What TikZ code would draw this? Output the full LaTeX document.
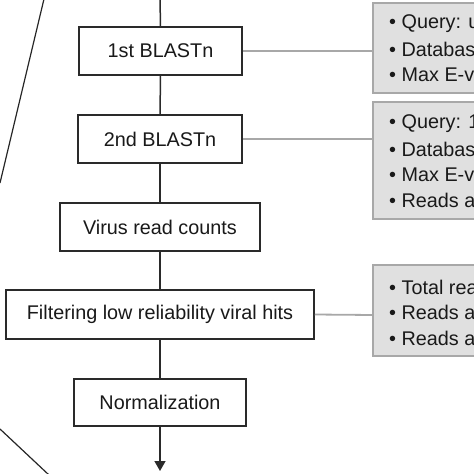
\documentclass[tikz,border=0pt]{standalone}
\usepackage{fontspec}
\setmainfont{Liberation Sans}
\usetikzlibrary{arrows.meta}
\definecolor{linec}{HTML}{2A2A2A}
\definecolor{grayfill}{HTML}{E0E0E0}
\definecolor{graydraw}{HTML}{A8A8A8}
\begin{document}
\begin{tikzpicture}[x=1pt,y=-1pt,
  stepbox/.style={draw=linec,line width=1.5pt,fill=white,inner sep=0pt,align=center,
    font=\fontsize{19.8}{22}\selectfont,text=black!90},
  infobox/.style={draw=graydraw,line width=1.2pt,fill=grayfill},
  infotext/.style={anchor=west,inner sep=0pt,font=\fontsize{19.8}{22}\selectfont,text=black!90},
  flow/.style={draw=linec,line width=1.5pt},
  side/.style={draw=graydraw,line width=1.8pt},
  edge/.style={draw=black!85,line width=1.2pt}]
\useasboundingbox (0,0) rectangle (474,474);
% decorative slanted lines
\draw[edge] (44,-1) -- (0,183);
\draw[edge] (0,429) -- (49,475);
% info boxes
\draw[infobox] (373,3) rectangle (480,93);
\draw[infobox] (373,102) rectangle (480,219);
\draw[infobox] (373,265) rectangle (480,356);
\node[infotext] (a1) at (389,24) {• Query: u};
\node[infotext] (a2) at (389,49.5) {• Databas};
\node[infotext] (a3) at (389,75) {• Max E-v};
\node[infotext] (b1) at (389,124) {• Query: 1};
\node[infotext] (b2) at (389,149.5) {• Databas};
\node[infotext] (b3) at (389,175) {• Max E-v};
\node[infotext] (b4) at (389,200.5) {• Reads a};
\node[infotext] (c1) at (389,287) {• Total rea};
\node[infotext] (c2) at (389,312.5) {• Reads a};
\node[infotext] (c3) at (389,338) {• Reads a};
\coordinate (ia) at (373,51);
\coordinate (ib) at (373,139);
\coordinate (ic) at (373,315);
% flow boxes
\node[stepbox,minimum width=163,minimum height=48] (s1) at (160.5,51) {1st BLASTn};
\node[stepbox,minimum width=164,minimum height=48] (s2) at (160,139) {2nd BLASTn};
\node[stepbox,minimum width=200,minimum height=48] (s3) at (160,227) {Virus read counts};
\node[stepbox,minimum width=308,minimum height=49] (s4) at (160,314.5) {Filtering low reliability viral hits};
\node[stepbox,minimum width=172,minimum height=47] (s5) at (160,402.5) {Normalization};
\coordinate (top) at (160,-1);
\coordinate (end) at (160,471);
% connectors
\draw[flow] (top) -- (s1.north);
\draw[flow] (s1) -- (s2);
\draw[flow] (s2) -- (s3);
\draw[flow] (s3) -- (s4);
\draw[flow] (s4) -- (s5);
\draw[flow,-{Triangle[length=10pt,width=11pt]}] (s5.south) -- (end);
\draw[side] (s1.east) -- (ia);
\draw[side] (s2.east) -- (ib);
\draw[side] (s4.east) -- (ic);
\end{tikzpicture}
\end{document}
